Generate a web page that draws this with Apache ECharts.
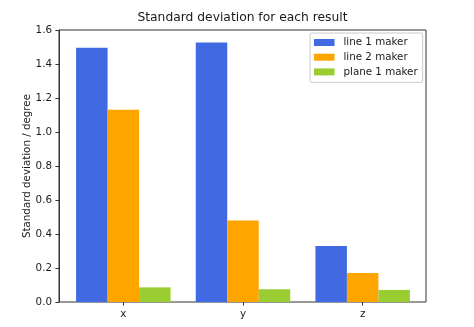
<!DOCTYPE html>
<html>
<head>
<meta charset="utf-8">
<script src="https://cdn.jsdelivr.net/npm/echarts@6/dist/echarts.min.js"></script>
<style>
  html, body { margin: 0; padding: 0; background: #fff; }
  #chart { width: 474px; height: 327px; }
</style>
</head>
<body>
<div id="chart"></div>
<script>
// Standard deviation per axis for each marker type
const categories = ['x', 'y', 'z'];
const seriesNames = ['line 1 maker', 'line 2 maker', 'plane 1 maker'];
const line1Maker = [1.495, 1.527, 0.329];
const line2Maker = [1.131, 0.480, 0.171];
const plane1Maker = [0.086, 0.075, 0.071];
const yTicks = { min: 0, max: 1.6, step: 0.2 };

const FONT = 'DejaVu Sans';
const TEXT = '#1a1a1a';
const SPINE = '#333333';
const colors = ['#4169E1', '#FFA500', '#9ACD32'];
const values = [line1Maker, line2Maker, plane1Maker];

const chart = echarts.init(document.getElementById('chart'), null, { renderer: 'canvas' });

chart.setOption({
  animation: false,
  backgroundColor: '#ffffff',
  title: {
    text: 'Standard deviation for each result',
    left: 242.5,
    top: 12,
    padding: 0,
    textAlign: 'center',
    textStyle: { fontFamily: FONT, fontSize: 12.3, fontWeight: 'normal', color: TEXT }
  },
  legend: {
    orient: 'vertical',
    left: 310,
    top: 33,
    padding: [3.5, 5, 4.5, 4],
    itemWidth: 20.5,
    itemHeight: 7,
    itemGap: 2.7,
    icon: 'rect',
    borderColor: '#cccccc',
    borderWidth: 1,
    borderRadius: 2,
    backgroundColor: 'rgba(255,255,255,0.8)',
    textStyle: { fontFamily: FONT, fontSize: 10.3, color: TEXT, lineHeight: 12, padding: [0, 0, 0, 4] },
    data: seriesNames
  },
  grid: [
    // frame and y scale
    { left: 59, top: 30, width: 367, height: 272, show: true, borderColor: SPINE, borderWidth: 1, backgroundColor: 'transparent' },
    // bar layout
    { left: 63.5, top: 30, width: 359, height: 272 }
  ],
  xAxis: [
    { gridIndex: 0, type: 'value', show: false, min: 0, max: 1 },
    {
      gridIndex: 1,
      type: 'category',
      data: categories,
      axisLine: { show: false },
      axisTick: { show: true, alignWithLabel: true, length: 3.6, lineStyle: { color: SPINE } },
      axisLabel: { fontFamily: FONT, fontSize: 10.3, color: TEXT, margin: 7 },
      splitLine: { show: false }
    }
  ],
  yAxis: [
    {
      gridIndex: 0,
      type: 'value',
      min: yTicks.min,
      max: yTicks.max,
      interval: yTicks.step,
      name: 'Standard deviation / degree',
      nameLocation: 'middle',
      nameGap: 27,
      nameMoveOverlap: false,
      nameTextStyle: { fontFamily: FONT, fontSize: 10.3, color: TEXT },
      axisLine: { show: true, lineStyle: { color: SPINE } },
      axisTick: { show: true, length: 3.6, lineStyle: { color: SPINE } },
      axisLabel: { fontFamily: FONT, fontSize: 10.3, color: TEXT, margin: 7, formatter: v => v.toFixed(1) },
      splitLine: { show: false }
    },
    { gridIndex: 1, type: 'value', min: yTicks.min, max: yTicks.max, show: false, splitLine: { show: false } }
  ],
  series: seriesNames.map((name, i) => ({
    name: name,
    type: 'bar',
    xAxisIndex: 1,
    yAxisIndex: 1,
    barWidth: 31.5,
    barGap: '0%',
    itemStyle: { color: colors[i] },
    data: values[i]
  }))
});
</script>
</body>
</html>
